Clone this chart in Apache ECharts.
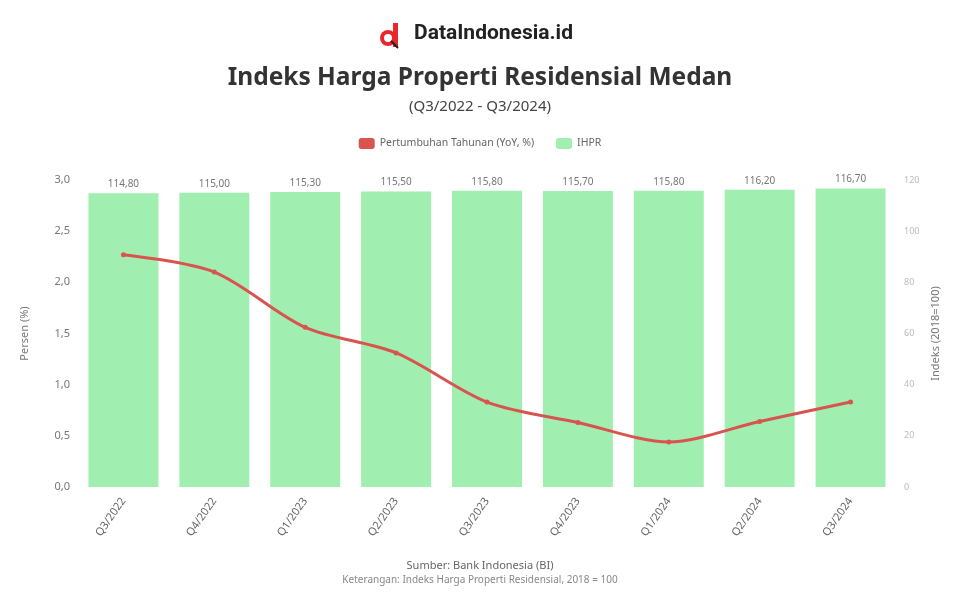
<!DOCTYPE html>
<html>
<head>
<meta charset="utf-8">
<script src="https://cdn.jsdelivr.net/npm/echarts@6/dist/echarts.min.js"></script>
<style>html,body{margin:0;padding:0;background:#fff}#c{width:960px;height:600px}</style>
</head>
<body>
<div id="c"></div>
<script>
const categories = ["Q3/2022","Q4/2022","Q1/2023","Q2/2023","Q3/2023","Q4/2023","Q1/2024","Q2/2024","Q3/2024"];
const indexValues = [114.8, 115.0, 115.3, 115.5, 115.8, 115.7, 115.8, 116.2, 116.7];
const growthValues = [2.27, 2.10, 1.56, 1.31, 0.83, 0.63, 0.44, 0.64, 0.83];
const leftTicks = {min: 0, max: 3, interval: 0.5};
const rightTicks = {min: 0, max: 120, interval: 20};

const chart = echarts.init(document.getElementById('c'));
const FONT = '"Noto Sans", sans-serif';
chart.setOption({
  animation: false,
  textStyle: {fontFamily: FONT},
  title: [
    {text: 'Indeks Harga Properti Residensial Medan', left: 'center', top: 61,
     textStyle: {fontSize: 24.5, fontWeight: 'bold', color: '#333', fontFamily: FONT}},
    {text: '(Q3/2022 - Q3/2024)', left: 'center', top: 94,
     textStyle: {fontSize: 15, fontWeight: 'normal', color: '#444', fontFamily: FONT}},
    {text: 'Sumber: Bank Indonesia (BI)', left: 'center', top: 555,
     textStyle: {fontSize: 11, fontWeight: 'normal', color: '#666', fontFamily: FONT}},
    {text: 'Keterangan: Indeks Harga Properti Residensial, 2018 = 100', left: 'center', top: 570,
     textStyle: {fontSize: 10, fontWeight: 'normal', color: '#888', fontFamily: FONT}}
  ],
  graphic: [
    {type: 'circle', shape: {cx: 388, cy: 38, r: 8}, style: {fill: '#e8262b'}},
    {type: 'rect', shape: {x: 393, y: 23, width: 5, height: 24}, style: {fill: '#e8262b'}},
    {type: 'circle', shape: {cx: 388, cy: 38, r: 4}, style: {fill: '#fff'}},
    {type: 'line', shape: {x1: 391, y1: 41, x2: 398, y2: 48}, style: {stroke: '#222', lineWidth: 2}},
    {type: 'text', left: 414, top: 23, style: {text: 'DataIndonesia.id', fontSize: 21, fontWeight: 'bold', fill: '#222', fontFamily: '"Roboto", sans-serif'}}
  ],
  legend: {
    top: 133, left: 'center', itemWidth: 16, itemHeight: 11, itemGap: 22,
    textStyle: {fontSize: 10.5, color: '#666'},
    data: [{name: 'Pertumbuhan Tahunan (YoY, %)', icon: 'roundRect'}, {name: 'IHPR', icon: 'roundRect'}]
  },
  grid: {left: 78, right: 64, top: 180, bottom: 113},
  xAxis: {
    type: 'category', data: categories,
    axisLine: {show: false}, axisTick: {show: false},
    axisLabel: {rotate: 55, color: '#666', fontSize: 11, margin: 12}
  },
  yAxis: [
    {type: 'value', min: leftTicks.min, max: leftTicks.max, interval: leftTicks.interval,
     name: 'Persen (%)', nameLocation: 'middle', nameGap: 48, nameRotate: 90,
     nameTextStyle: {color: '#777', fontSize: 11},
     axisLabel: {color: '#777', fontSize: 11, formatter: v => v.toFixed(1).replace('.', ',')},
     splitLine: {show: false}, axisLine: {show: false}, axisTick: {show: false}},
    {type: 'value', min: rightTicks.min, max: rightTicks.max, interval: rightTicks.interval,
     name: 'Indeks (2018=100)', nameLocation: 'middle', nameGap: 34, nameRotate: 90,
     nameTextStyle: {color: '#777', fontSize: 11},
     axisLabel: {color: '#bbb', fontSize: 9},
     splitLine: {show: false}, axisLine: {show: false}, axisTick: {show: false}}
  ],
  series: [
    {name: 'IHPR', type: 'bar', yAxisIndex: 1, data: indexValues, barCategoryGap: '23%',
     itemStyle: {color: '#a1eeb1'}, z: 1,
     label: {show: true, position: 'top', color: '#777', fontSize: 10, distance: 4,
             formatter: p => p.value.toFixed(2).replace('.', ',')}},
    {name: 'Pertumbuhan Tahunan (YoY, %)', type: 'line', yAxisIndex: 0, data: growthValues,
     smooth: 0.3, symbol: 'circle', symbolSize: 5, z: 3,
     lineStyle: {color: '#d9534f', width: 3}, itemStyle: {color: '#d9534f'}}
  ]
});
</script>
</body>
</html>
